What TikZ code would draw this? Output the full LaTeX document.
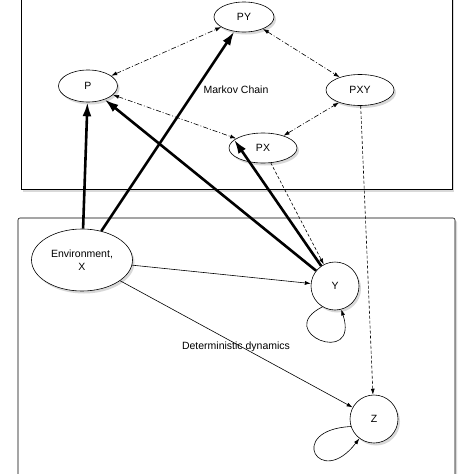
\documentclass[tikz,border=0pt]{standalone}
\usepackage{fontspec}
\setmainfont{Liberation Sans}
\usetikzlibrary{shapes.geometric,arrows.meta,shadows}

\tikzset{
  softshadow/.style={drop shadow={opacity=.3,shadow xshift=2pt,shadow yshift=-2.5pt}},
  chainnode/.style={ellipse,draw,fill=white,inner sep=0pt,softshadow},
  statenode/.style={circle,draw,fill=white,inner sep=0pt,minimum size=48pt,softshadow},
  mcarrow/.style={{Latex[length=6pt,width=4pt]}-{Latex[length=6pt,width=4pt]},dash pattern=on 5pt off 2pt on 1pt off 2pt},
  maparrow/.style={-{Latex[length=6pt,width=4pt]},dash pattern=on 3pt off 2pt},
  fatarrow/.style={-{Latex[length=14pt,width=9pt]},line width=2.6pt},
  dynarrow/.style={-{Latex[length=6pt,width=4pt]}}
}

\begin{document}
\begin{tikzpicture}[x=1pt,y=-1pt,line width=.6pt,font=\fontsize{10.5}{12.5}\selectfont]
\useasboundingbox (0,0) rectangle (474,474);
\draw[fill=white,softshadow] (21,-4) rectangle (452,189);
\draw[fill=white,softshadow,rounded corners=2pt] (18,218) rectangle (455,480);
\node[chainnode,minimum width=60pt,minimum height=30pt] (PY) at (244,17) {PY};
\node[chainnode,minimum width=59pt,minimum height=32pt] (P) at (88,86) {P};
\node[chainnode,minimum width=68pt,minimum height=31pt] (PXY) at (360,90) {PXY};
\node[chainnode,minimum width=68pt,minimum height=30pt] (PX) at (263,148) {PX};
\node (mclabel) at (236,90) {Markov Chain};
\node[chainnode,minimum width=101pt,minimum height=62pt,align=center] (env) at (82,260) {Environment,\\X};
\node[statenode] (Y) at (335,286) {Y};
\node[statenode] (Z) at (374,419) {Z};
\node (ddlabel) at (236,347) {Deterministic dynamics};
\draw[mcarrow] (P) -- (PY);
\draw[mcarrow] (PY) -- (PXY);
\draw[mcarrow] (P) -- (PX);
\draw[mcarrow] (PX) -- (PXY);
\draw[maparrow] (PX) -- (Y);
\draw[maparrow] (PXY) -- (Z);
\draw[fatarrow] (env) -- (P);
\draw[fatarrow] (env) -- (PY);
\draw[fatarrow] (Y) -- (P);
\draw[fatarrow] (Y) -- (PX.164);
\draw[dynarrow] (env) -- (Y);
\draw[dynarrow] (env) -- (Z);
\draw[dynarrow] (Y.239) .. controls (272,332) and (360,368) .. (Y.285);
\draw[dynarrow] (Z.198) .. controls (285,430) and (320,490) .. (Z.233);
\end{tikzpicture}
\end{document}
